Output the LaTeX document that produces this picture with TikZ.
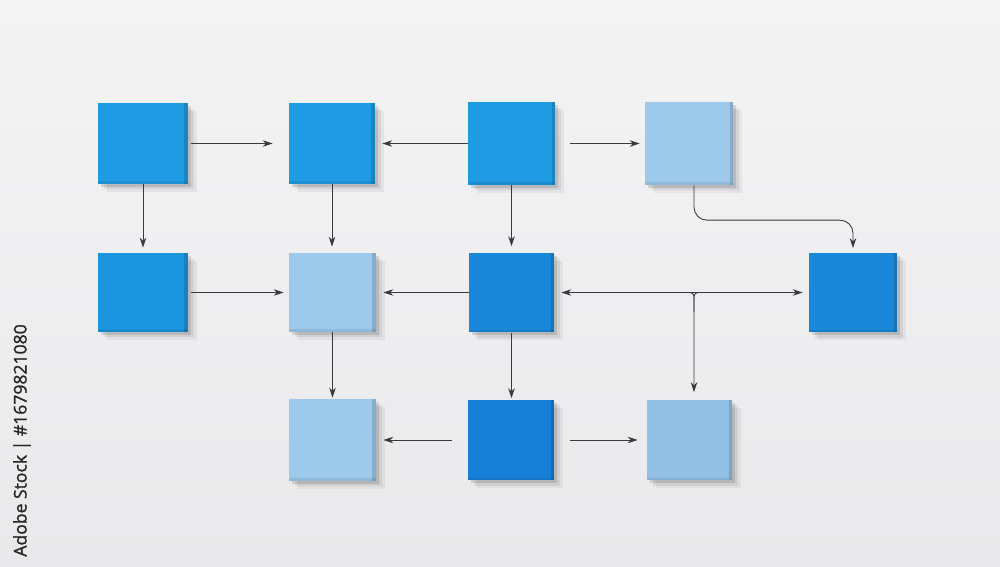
\documentclass[tikz,border=0pt]{standalone}
\usepackage{fontspec}
\newfontfamily\wmfont[FakeBold=1.2]{Open Sans}
\usetikzlibrary{arrows.meta,shadows,calc}
\definecolor{bgtop}{HTML}{F4F4F5}
\definecolor{bgbot}{HTML}{E9E9EB}
\definecolor{bmid}{HTML}{1E9BE3}
\definecolor{bmidb}{HTML}{1C95E0}
\definecolor{bdeep}{HTML}{1A88DA}
\definecolor{bdark}{HTML}{177FD5}
\definecolor{blight}{HTML}{9DC9EA}
\definecolor{blightb}{HTML}{93C1E6}
\definecolor{lncol}{HTML}{3A3A3C}
\tikzset{
  boxnode/.style={draw=none, minimum width=#1, inner sep=0pt,
    drop shadow={shadow xshift=1.8mm, shadow yshift=-1.6mm, opacity=0.05, fill=black},
    drop shadow={shadow xshift=1.2mm, shadow yshift=-1.1mm, opacity=0.07, fill=black},
    drop shadow={shadow xshift=0.6mm, shadow yshift=-0.6mm, opacity=0.12, fill=black},
    path picture={\fill[black,opacity=0.14] ([xshift=-0.7mm]path picture bounding box.north east) rectangle (path picture bounding box.south east);
                  \fill[black,opacity=0.08] ([yshift=0.5mm]path picture bounding box.south west) rectangle (path picture bounding box.south east);}},
  boxnode/.default=17.6mm,
  ln/.style={draw=lncol, line width=0.5pt},
  arr/.style={ln, -{Stealth[length=2mm,width=1.3mm]}},
  arrboth/.style={ln, {Stealth[length=2mm,width=1.3mm]}-{Stealth[length=2mm,width=1.3mm]}},
}
\begin{document}
\begin{tikzpicture}[x=0.02cm,y=-0.02cm]
\shade[top color=bgtop, bottom color=bgbot] (0,0) rectangle (1000,567);
\useasboundingbox (0,0) rectangle (1000,567);

% row 1
\node[boxnode=18mm, minimum height=16.2mm, fill=bmid]  (A) at (143,143.5) {};
\node[boxnode=17.2mm, minimum height=16.2mm, fill=bmid] (B) at (332,143.5) {};
\node[boxnode=17.4mm, minimum height=16.6mm, fill=bmid] (C) at (511.5,143.5) {};
\node[boxnode=17.6mm, minimum height=16.6mm, fill=blight] (D) at (689,143.5) {};
% row 2
\node[boxnode=18mm, minimum height=15.8mm, fill=bmidb] (E) at (143,292.5) {};
\node[boxnode=17.4mm, minimum height=15.8mm, fill=blight] (F) at (332.5,292.5) {};
\node[boxnode=17mm, minimum height=16mm, fill=bdeep] (G) at (511.5,292.5) {};
\node[boxnode=17.6mm, minimum height=16mm, fill=bdeep] (H) at (853,292.5) {};
% row 3
\node[boxnode=17.4mm, minimum height=16.4mm, fill=blight] (I) at (332.5,440) {};
\node[boxnode=17.2mm, minimum height=16.2mm, fill=bdark] (J) at (511,440) {};
\node[boxnode=17mm, minimum height=16.2mm, fill=blightb] (K) at (689.5,440) {};

% horizontal connectors
\draw[arr, shorten <=0.6mm, shorten >=3.2mm] (A) -- (B);
\draw[arr, shorten >=1.4mm] (C) -- (B);
\draw[arr, shorten <=3mm, shorten >=1mm] (C) -- (D);
\draw[arr, shorten <=0.6mm, shorten >=1mm] (E) -- (F);
\draw[arr, shorten >=1.4mm] (G) -- (F);
\draw[arr, shorten <=3.2mm, shorten >=1.4mm] (J) -- (I);
\draw[arr, shorten <=3.2mm, shorten >=1.8mm] (J) -- (K);

% vertical connectors
\draw[arr, shorten >=1mm] (A.south) -- (E.north);
\draw[arr, shorten >=1.2mm] (B.south) -- (B.south |- F.north);
\draw[arr, shorten >=1.2mm] (C.south) -- (C.south |- G.north);
\draw[arr, shorten >=0.2mm] (F.south) -- (I.north);
\draw[arr, shorten >=0.2mm] (G.south) -- (G.south |- J.north);

% D to H
\draw[arr, rounded corners=2.6mm] ([xshift=1mm]D.south) |- ([yshift=6.4mm]H.north) -- ([yshift=0.8mm]H.north);

% G <-> H with branch to K
\coordinate (jn) at (694,292.5);
\draw[arrboth, shorten <=1.4mm, shorten >=1.2mm] (G) -- (H);
\draw[arr, rounded corners=0.8mm] ([xshift=-1.6mm]jn) -| ($(jn |- K.north)+(0,-7)$);
\draw[ln, rounded corners=0.8mm] ([xshift=1.6mm]jn) -| ($(jn)+(0,20)$);

% side text
\node[rotate=90, anchor=west, text=black!85, font=\wmfont\fontsize{10pt}{12pt}\selectfont, inner sep=0pt] (wm) at (22,557) {Adobe Stock | \#1679821080};
\end{tikzpicture}
\end{document}
